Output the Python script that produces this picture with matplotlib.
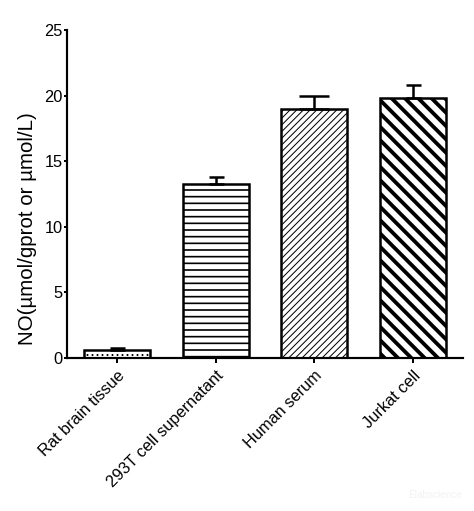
import matplotlib
matplotlib.use('Agg')
import matplotlib.pyplot as plt
import numpy as np

# NO content in different samples
samples = ["Rat brain tissue", "293T cell supernatant", "Human serum", "Jurkat cell"]
no_mean = [0.6, 13.3, 19.0, 19.8]
no_err = [0.2, 0.5, 1.0, 1.0]

hatches = ['....', '---', '//////', '\\\\\\']
hatch_lw = [0.6, 1.0, 0.6, 2.3]
cap_sizes = [4.5, 4.5, 9.0, 4.5]

plt.rcParams['font.family'] = ['Liberation Sans', 'DejaVu Sans']

fig = plt.figure(figsize=(474 / 120, 511 / 120), dpi=120)
ax = fig.add_axes([67 / 474, 1 - 358 / 511, 396 / 474, 328 / 511])

x = np.arange(len(samples))
for i in range(len(samples)):
    with plt.rc_context({'hatch.linewidth': hatch_lw[i]}):
        ax.bar(x[i], no_mean[i], width=0.67, color='white', edgecolor='black',
               linewidth=1.5, hatch=hatches[i], zorder=2)
    ax.errorbar(x[i], no_mean[i], yerr=[[0], [no_err[i]]], fmt='none',
                ecolor='black', elinewidth=1.5, capsize=cap_sizes[i],
                capthick=1.5, zorder=3)

ax.set_xlim(-0.51, 3.51)
ax.set_ylim(0, 25)
ax.set_yticks([0, 5, 10, 15, 20, 25])
ax.set_xticks(x)
ax.set_xticklabels(samples, rotation=45, ha='right', rotation_mode='anchor',
                   fontsize=9.8)
ax.tick_params(axis='y', labelsize=9.8, length=2, width=1.2, pad=0.5)
ax.tick_params(axis='x', length=3, width=1.2, pad=3)

for s in ['top', 'right']:
    ax.spines[s].set_visible(False)
for s in ['left', 'bottom']:
    ax.spines[s].set_linewidth(1.3)

ax.set_ylabel("NO(µmol/gprot or µmol/L)", fontsize=12.3)
ax.yaxis.set_label_coords(-0.076, 0.393)

fig.text(0.975, 0.025, "Elabscience", fontsize=6, color='#f2f2f2', ha='right')

fig.savefig("out.png", dpi=120)
